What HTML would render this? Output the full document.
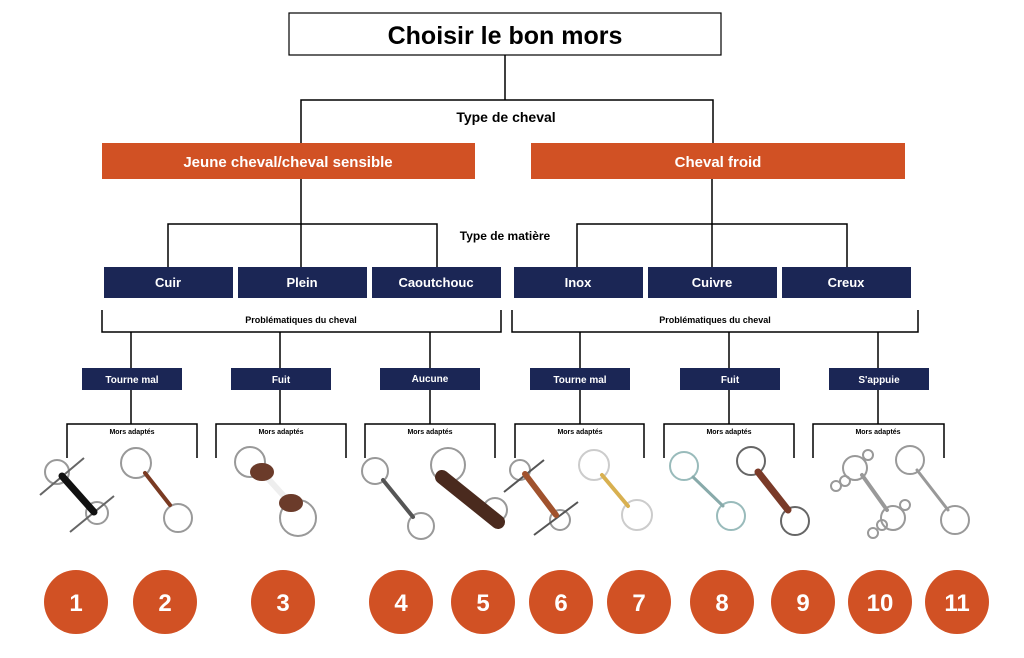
<!DOCTYPE html>
<html><head><meta charset="utf-8"><style>
body{margin:0;background:#fff;width:1024px;height:658px;overflow:hidden;font-family:"Liberation Sans",sans-serif}
svg{display:block}
.t{font-family:"Liberation Sans",sans-serif;font-weight:bold;text-anchor:middle}
</style></head><body>
<svg width="1024" height="658" viewBox="0 0 1024 658">
<g stroke="#000" stroke-width="1.5" fill="none">
<rect x="289" y="13" width="432" height="42" stroke-width="1.2"/>
<path d="M505 55V100M301 143V100H713V143"/>
<path d="M301 179V267M168 267V224H437V267M712 179V267M577 267V224H847V267"/>
<path d="M102 310V332H501V310M512 310V332H918V310"/>
<path d="M131 332V368M280 332V368M430 332V368M580 332V368M729 332V368M878 332V368"/>
<path d="M131 390V424M280 390V424M430 390V424M580 390V424M729 390V424M878 390V424"/>
<path d="M67 458V424H197V458M216 458V424H346V458M365 458V424H495V458M515 458V424H644V458M664 458V424H794V458M813 458V424H944V458"/>
</g>
<text class="t" x="505" y="44" font-size="25">Choisir le bon mors</text>
<text class="t" x="506" y="122" font-size="14">Type de cheval</text>
<text class="t" x="505" y="240" font-size="12">Type de matière</text>
<g fill="#d15124">
<rect x="102" y="143" width="373" height="36"/><rect x="531" y="143" width="374" height="36"/>
</g>
<g fill="#fff" class="t" font-size="15"><text x="288" y="167" fill="#fff">Jeune  cheval/cheval sensible</text><text x="718" y="167" fill="#fff">Cheval froid</text></g>
<g fill="#1b2655">
<rect x="104" y="267" width="129" height="31"/><rect x="238" y="267" width="129" height="31"/><rect x="372" y="267" width="129" height="31"/>
<rect x="514" y="267" width="129" height="31"/><rect x="648" y="267" width="129" height="31"/><rect x="782" y="267" width="129" height="31"/>
<rect x="82" y="368" width="100" height="22"/><rect x="231" y="368" width="100" height="22"/><rect x="380" y="368" width="100" height="22"/>
<rect x="530" y="368" width="100" height="22"/><rect x="680" y="368" width="100" height="22"/><rect x="829" y="368" width="100" height="22"/>
</g>
<g class="t" font-size="13" fill="#fff">
<text x="168" y="287">Cuir</text><text x="302" y="287">Plein</text><text x="436" y="287">Caoutchouc</text>
<text x="578" y="287">Inox</text><text x="712" y="287">Cuivre</text><text x="846" y="287">Creux</text>
</g>
<g class="t" font-size="10" fill="#fff">
<text x="132" y="383">Tourne mal</text><text x="281" y="383">Fuit</text><text x="430" y="382">Aucune</text>
<text x="580" y="383">Tourne mal</text><text x="730" y="383">Fuit</text><text x="879" y="383">S'appuie</text>
</g>
<g class="t" font-size="9" fill="#000">
<text x="301" y="323">Problématiques du cheval</text><text x="715" y="323">Problématiques du cheval</text>
<text x="132" y="434" font-size="7">Mors adaptés</text><text x="281" y="434" font-size="7">Mors adaptés</text><text x="430" y="434" font-size="7">Mors adaptés</text>
<text x="580" y="434" font-size="7">Mors adaptés</text><text x="729" y="434" font-size="7">Mors adaptés</text><text x="878" y="434" font-size="7">Mors adaptés</text>
</g>
<!-- bits -->
<g fill="none" stroke="#999" stroke-width="2">
<circle cx="57" cy="472" r="12"/><circle cx="97" cy="513" r="11"/>
<path d="M40 495L84 458M70 532L114 496" stroke="#666"/>
<circle cx="136" cy="463" r="15"/><circle cx="178" cy="518" r="14"/>
<circle cx="250" cy="462" r="15"/><circle cx="298" cy="518" r="18"/>
<circle cx="375" cy="471" r="13"/><circle cx="421" cy="526" r="13"/>
<circle cx="448" cy="465" r="17"/><circle cx="495" cy="510" r="12"/>
<circle cx="520" cy="470" r="10"/><circle cx="560" cy="520" r="10"/>
<path d="M504 492L544 460M534 535L578 502" stroke="#555"/>
<circle cx="594" cy="465" r="15" stroke="#ccc"/><circle cx="637" cy="515" r="15" stroke="#ccc"/>
<circle cx="684" cy="466" r="14" stroke="#9bb"/><circle cx="731" cy="516" r="14" stroke="#9bb"/>
<circle cx="751" cy="461" r="14" stroke="#666"/><circle cx="795" cy="521" r="14" stroke="#666"/>
<circle cx="855" cy="468" r="12"/><circle cx="893" cy="518" r="12"/><circle cx="836" cy="486" r="5"/><circle cx="845" cy="481" r="5"/><circle cx="868" cy="455" r="5"/><circle cx="905" cy="505" r="5"/><circle cx="873" cy="533" r="5"/><circle cx="882" cy="525" r="5"/>
<circle cx="910" cy="460" r="14"/><circle cx="955" cy="520" r="14"/>
</g>
<g stroke-linecap="round">
<path d="M62 476L94 512" stroke="#111" stroke-width="7"/>
<path d="M145 473L170 505" stroke="#7a3a22" stroke-width="4"/>
<path d="M262 472L292 505" stroke="#eee" stroke-width="6"/>
<ellipse cx="262" cy="472" rx="12" ry="9" fill="#6b3b2a"/><ellipse cx="291" cy="503" rx="12" ry="9" fill="#6b3b2a"/>
<path d="M383 480L413 517" stroke="#555" stroke-width="4"/>
<path d="M442 477L498 522" stroke="#4a2a1e" stroke-width="14"/>
<path d="M525 474L556 515" stroke="#a0522d" stroke-width="6"/>
<path d="M602 475L628 506" stroke="#d8b050" stroke-width="4"/>
<path d="M693 477L723 506" stroke="#8aa" stroke-width="3"/>
<path d="M758 472L788 510" stroke="#7a3a28" stroke-width="7"/>
<path d="M862 475L887 510" stroke="#999" stroke-width="4"/>
<path d="M917 470L948 510" stroke="#999" stroke-width="3"/>
</g>
<g fill="#d15124">
<circle cx="76" cy="602" r="32"/><circle cx="165" cy="602" r="32"/><circle cx="283" cy="602" r="32"/><circle cx="401" cy="602" r="32"/><circle cx="483" cy="602" r="32"/><circle cx="561" cy="602" r="32"/><circle cx="639" cy="602" r="32"/><circle cx="722" cy="602" r="32"/><circle cx="803" cy="602" r="32"/><circle cx="880" cy="602" r="32"/><circle cx="957" cy="602" r="32"/>
</g>
<g class="t" font-size="24" fill="#fff">
<text x="76" y="611" fill="#fff">1</text><text x="165" y="611" fill="#fff">2</text><text x="283" y="611" fill="#fff">3</text><text x="401" y="611" fill="#fff">4</text><text x="483" y="611" fill="#fff">5</text><text x="561" y="611" fill="#fff">6</text><text x="639" y="611" fill="#fff">7</text><text x="722" y="611" fill="#fff">8</text><text x="803" y="611" fill="#fff">9</text><text x="880" y="611" fill="#fff">10</text><text x="957" y="611" fill="#fff">11</text>
</g>
</svg>
</body></html>
